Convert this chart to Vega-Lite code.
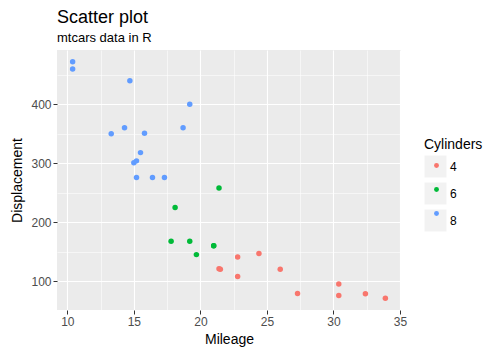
{
  "$schema": "https://vega.github.io/schema/vega-lite/v6.json",
  "width": 344,
  "height": 260,
  "autosize": {"type": "none"},
  "padding": {"left": 57, "top": 50, "right": 99, "bottom": 46},
  "background": "white",
  "title": {
    "text": "Scatter plot",
    "subtitle": "mtcars data in R",
    "anchor": "start",
    "frame": "group",
    "font": "Liberation Sans",
    "fontSize": 18,
    "fontWeight": "normal",
    "color": "black",
    "subtitleFont": "Liberation Sans",
    "subtitleFontSize": 13,
    "subtitleColor": "black",
    "offset": 5,
    "subtitlePadding": 5
  },
  "config": {
    "view": {"fill": "#EBEBEB", "stroke": null},
    "axis": {
      "domain": false,
      "gridColor": "white",
      "labelColor": "#4D4D4D",
      "labelFont": "Liberation Sans",
      "labelFontSize": 12,
      "labelFlush": false,
      "labelOverlap": false,
      "tickSize": 4,
      "titleFont": "Liberation Sans",
      "titleFontSize": 14,
      "titleFontWeight": "normal",
      "titleColor": "black"
    }
  },
  "data": {
    "values": [
      {"mpg": 21.0, "disp": 160, "cyl": "6"},
      {"mpg": 21.0, "disp": 160, "cyl": "6"},
      {"mpg": 22.8, "disp": 108, "cyl": "4"},
      {"mpg": 21.4, "disp": 258, "cyl": "6"},
      {"mpg": 18.7, "disp": 360, "cyl": "8"},
      {"mpg": 18.1, "disp": 225, "cyl": "6"},
      {"mpg": 14.3, "disp": 360, "cyl": "8"},
      {"mpg": 24.4, "disp": 146.7, "cyl": "4"},
      {"mpg": 22.8, "disp": 140.8, "cyl": "4"},
      {"mpg": 19.2, "disp": 167.6, "cyl": "6"},
      {"mpg": 17.8, "disp": 167.6, "cyl": "6"},
      {"mpg": 16.4, "disp": 275.8, "cyl": "8"},
      {"mpg": 17.3, "disp": 275.8, "cyl": "8"},
      {"mpg": 15.2, "disp": 275.8, "cyl": "8"},
      {"mpg": 10.4, "disp": 472, "cyl": "8"},
      {"mpg": 10.4, "disp": 460, "cyl": "8"},
      {"mpg": 14.7, "disp": 440, "cyl": "8"},
      {"mpg": 32.4, "disp": 78.7, "cyl": "4"},
      {"mpg": 30.4, "disp": 75.7, "cyl": "4"},
      {"mpg": 33.9, "disp": 71.1, "cyl": "4"},
      {"mpg": 21.5, "disp": 120.1, "cyl": "4"},
      {"mpg": 15.5, "disp": 318, "cyl": "8"},
      {"mpg": 15.2, "disp": 304, "cyl": "8"},
      {"mpg": 13.3, "disp": 350, "cyl": "8"},
      {"mpg": 19.2, "disp": 400, "cyl": "8"},
      {"mpg": 27.3, "disp": 79, "cyl": "4"},
      {"mpg": 26.0, "disp": 120.3, "cyl": "4"},
      {"mpg": 30.4, "disp": 95.1, "cyl": "4"},
      {"mpg": 15.8, "disp": 351, "cyl": "8"},
      {"mpg": 19.7, "disp": 145, "cyl": "6"},
      {"mpg": 15.0, "disp": 301, "cyl": "8"},
      {"mpg": 21.4, "disp": 121, "cyl": "4"}
    ]
  },
  "encoding": {
    "x": {
      "field": "mpg",
      "type": "quantitative",
      "scale": {"domain": [9.225, 35.075], "nice": false, "zero": false},
      "axis": {
        "title": "Mileage",
        "values": [10, 12.5, 15, 17.5, 20, 22.5, 25, 27.5, 30, 32.5, 35],
        "labelExpr": "datum.value % 5 == 0 ? datum.label : ''",
        "gridWidth": {"condition": {"test": "datum.value % 5 != 0", "value": 0.55}, "value": 1.1},
        "tickColor": {"condition": {"test": "datum.value % 5 != 0", "value": "transparent"}, "value": "#333333"},
        "labelPadding": 2,
        "titlePadding": 5
      }
    },
    "y": {
      "field": "disp",
      "type": "quantitative",
      "scale": {"domain": [51.06, 492.05], "nice": false, "zero": false},
      "axis": {
        "title": "Displacement",
        "values": [100, 150, 200, 250, 300, 350, 400, 450],
        "labelExpr": "datum.value % 100 == 0 ? datum.label : ''",
        "gridWidth": {"condition": {"test": "datum.value % 100 != 0", "value": 0.55}, "value": 1.1},
        "tickColor": {"condition": {"test": "datum.value % 100 != 0", "value": "transparent"}, "value": "#333333"},
        "labelPadding": 2,
        "titlePadding": 6
      }
    }
  },
  "layer": [
    {
      "mark": {"type": "point", "filled": true, "color": "#F2F2F2", "size": 1, "opacity": 1},
      "encoding": {
        "shape": {
          "field": "cyl",
          "type": "nominal",
          "scale": {"domain": ["4", "6", "8"], "range": ["square", "square", "square"]},
          "legend": {
            "title": "Cylinders",
            "orient": "none",
            "legendX": 367,
            "legendY": 88,
            "padding": 0,
            "symbolSize": 484,
            "symbolFillColor": "#F2F2F2",
            "symbolStrokeColor": "white",
            "symbolStrokeWidth": 1,
            "symbolOpacity": 1,
            "rowPadding": 0,
            "labelFont": "Liberation Sans",
            "labelFontSize": 12,
            "labelColor": "black",
            "labelOffset": 3,
            "titleFont": "Liberation Sans",
            "titleFontSize": 14,
            "titleFontWeight": "normal",
            "titleColor": "black",
            "titlePadding": 3,
            "zindex": 0
          }
        }
      }
    },
    {
      "mark": {"type": "point", "filled": true, "size": 30, "opacity": 1},
      "encoding": {
        "color": {
          "field": "cyl",
          "type": "nominal",
          "scale": {"range": ["#F8766D", "#00BA38", "#619CFF"]},
          "legend": {
            "title": null,
            "orient": "none",
            "legendX": 376,
            "legendY": 112,
            "padding": 0,
            "symbolType": "circle",
            "symbolSize": 24,
            "symbolOpacity": 1,
            "rowPadding": 18,
            "labelExpr": "''",
            "labelFontSize": 1,
            "labelOffset": 0,
            "zindex": 1
          }
        }
      }
    }
  ]
}
